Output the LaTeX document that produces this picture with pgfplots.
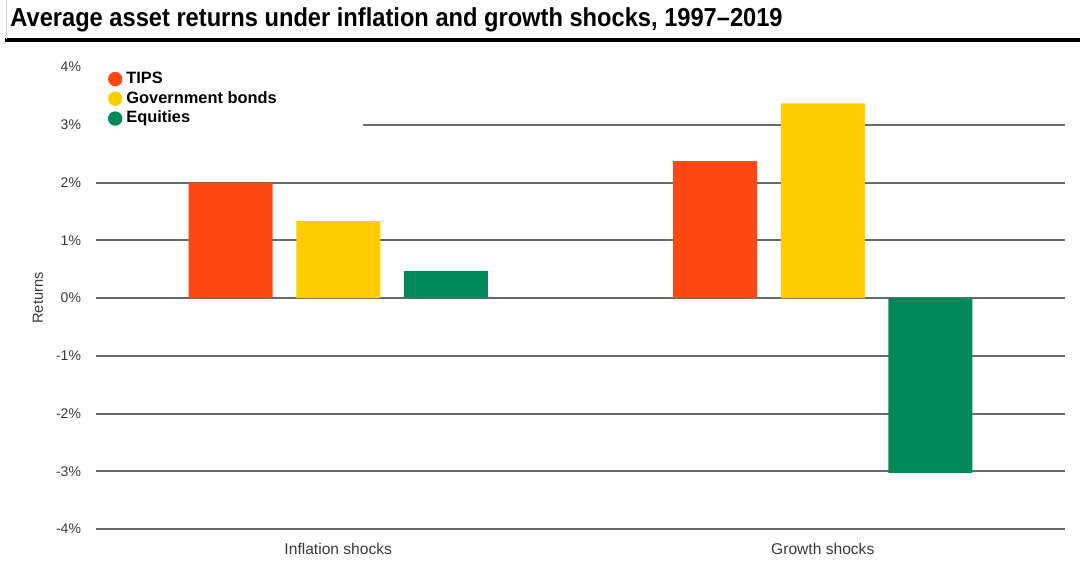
\documentclass[border=0pt]{standalone}
\usepackage{pgfplots}
\pgfplotsset{compat=1.18}
\usepackage{fontspec}
\setmainfont{Liberation Sans}
\definecolor{tips}{HTML}{FF4713}
\definecolor{gov}{HTML}{FFCD00}
\definecolor{eq}{HTML}{00875A}
\definecolor{gridc}{HTML}{6A6A6A}
\definecolor{txt}{HTML}{3A3A3A}
\begin{document}
\begin{tikzpicture}[x=1bp,y=1bp]
\useasboundingbox (0,0) rectangle (540,282.5);
\node[anchor=base west, inner sep=0] at (5,269.5) {\scalebox{0.91}[1]{\fontsize{13bp}{15bp}\selectfont\bfseries Average asset returns under inflation and growth shocks, 1997--2019}};
\draw[line width=2.25bp] (2.5,262.5) -- (540,262.5);
\draw[gray!35, line width=0.5bp] (3,263) -- (3,282.5);
\begin{axis}[
  at={(48bp,18bp)}, anchor=south west,
  scale only axis, width=484.5bp, height=231bp,
  xmin=-0.5, xmax=1.5, ymin=-4, ymax=4,
  axis line style={draw=none},
  major tick length=0pt,
  tick style={draw=none},
  ytick={-4,-3,...,3},
  yticklabels={-4\%,-3\%,-2\%,-1\%,0\%,1\%,2\%,3\%},
  extra y ticks={4},
  extra y tick labels={4\%},
  extra y tick style={grid=none},
  ymajorgrids,
  grid style={gridc, line width=1bp},
  yticklabel style={font=\fontsize{7bp}{8bp}\selectfont, text=txt, xshift=-4bp},
  xtick={0,1},
  xticklabels={Inflation shocks, Growth shocks},
  xticklabel style={font=\fontsize{7.8bp}{9bp}\selectfont, text=txt, yshift=-3.5bp},
  ylabel={Returns},
  ylabel style={font=\fontsize{7.3bp}{8bp}\selectfont, text=txt, at={(axis description cs:-0.06,0.5)}, anchor=center},
  ybar, bar width=42bp, bar shift=0pt,
  legend style={at={(axis description cs:0.012,0.999)}, anchor=north west, draw=none, fill=none,
    font=\fontsize{8.2bp}{9bp}\selectfont\bfseries, row sep=-1.5bp, inner sep=0pt},
  legend cell align=left,
]
\fill[white] (rel axis cs:0,0.82) rectangle (rel axis cs:0.2755,1.01);
\addplot[fill=tips, draw=none, legend image code/.code={\fill[tips] (3.6bp,0bp) circle (3.6bp);}]
  coordinates {(-0.222,2.00) (0.778,2.37)};
\addplot[fill=gov, draw=none, legend image code/.code={\fill[gov] (3.6bp,0bp) circle (3.6bp);}]
  coordinates {(0,1.33) (1,3.37)};
\addplot[fill=eq, draw=none, legend image code/.code={\fill[eq] (3.6bp,0bp) circle (3.6bp);}]
  coordinates {(0.222,0.47) (1.222,-3.03)};
\legend{TIPS, Government bonds, Equities}
\end{axis}
\end{tikzpicture}
\end{document}
